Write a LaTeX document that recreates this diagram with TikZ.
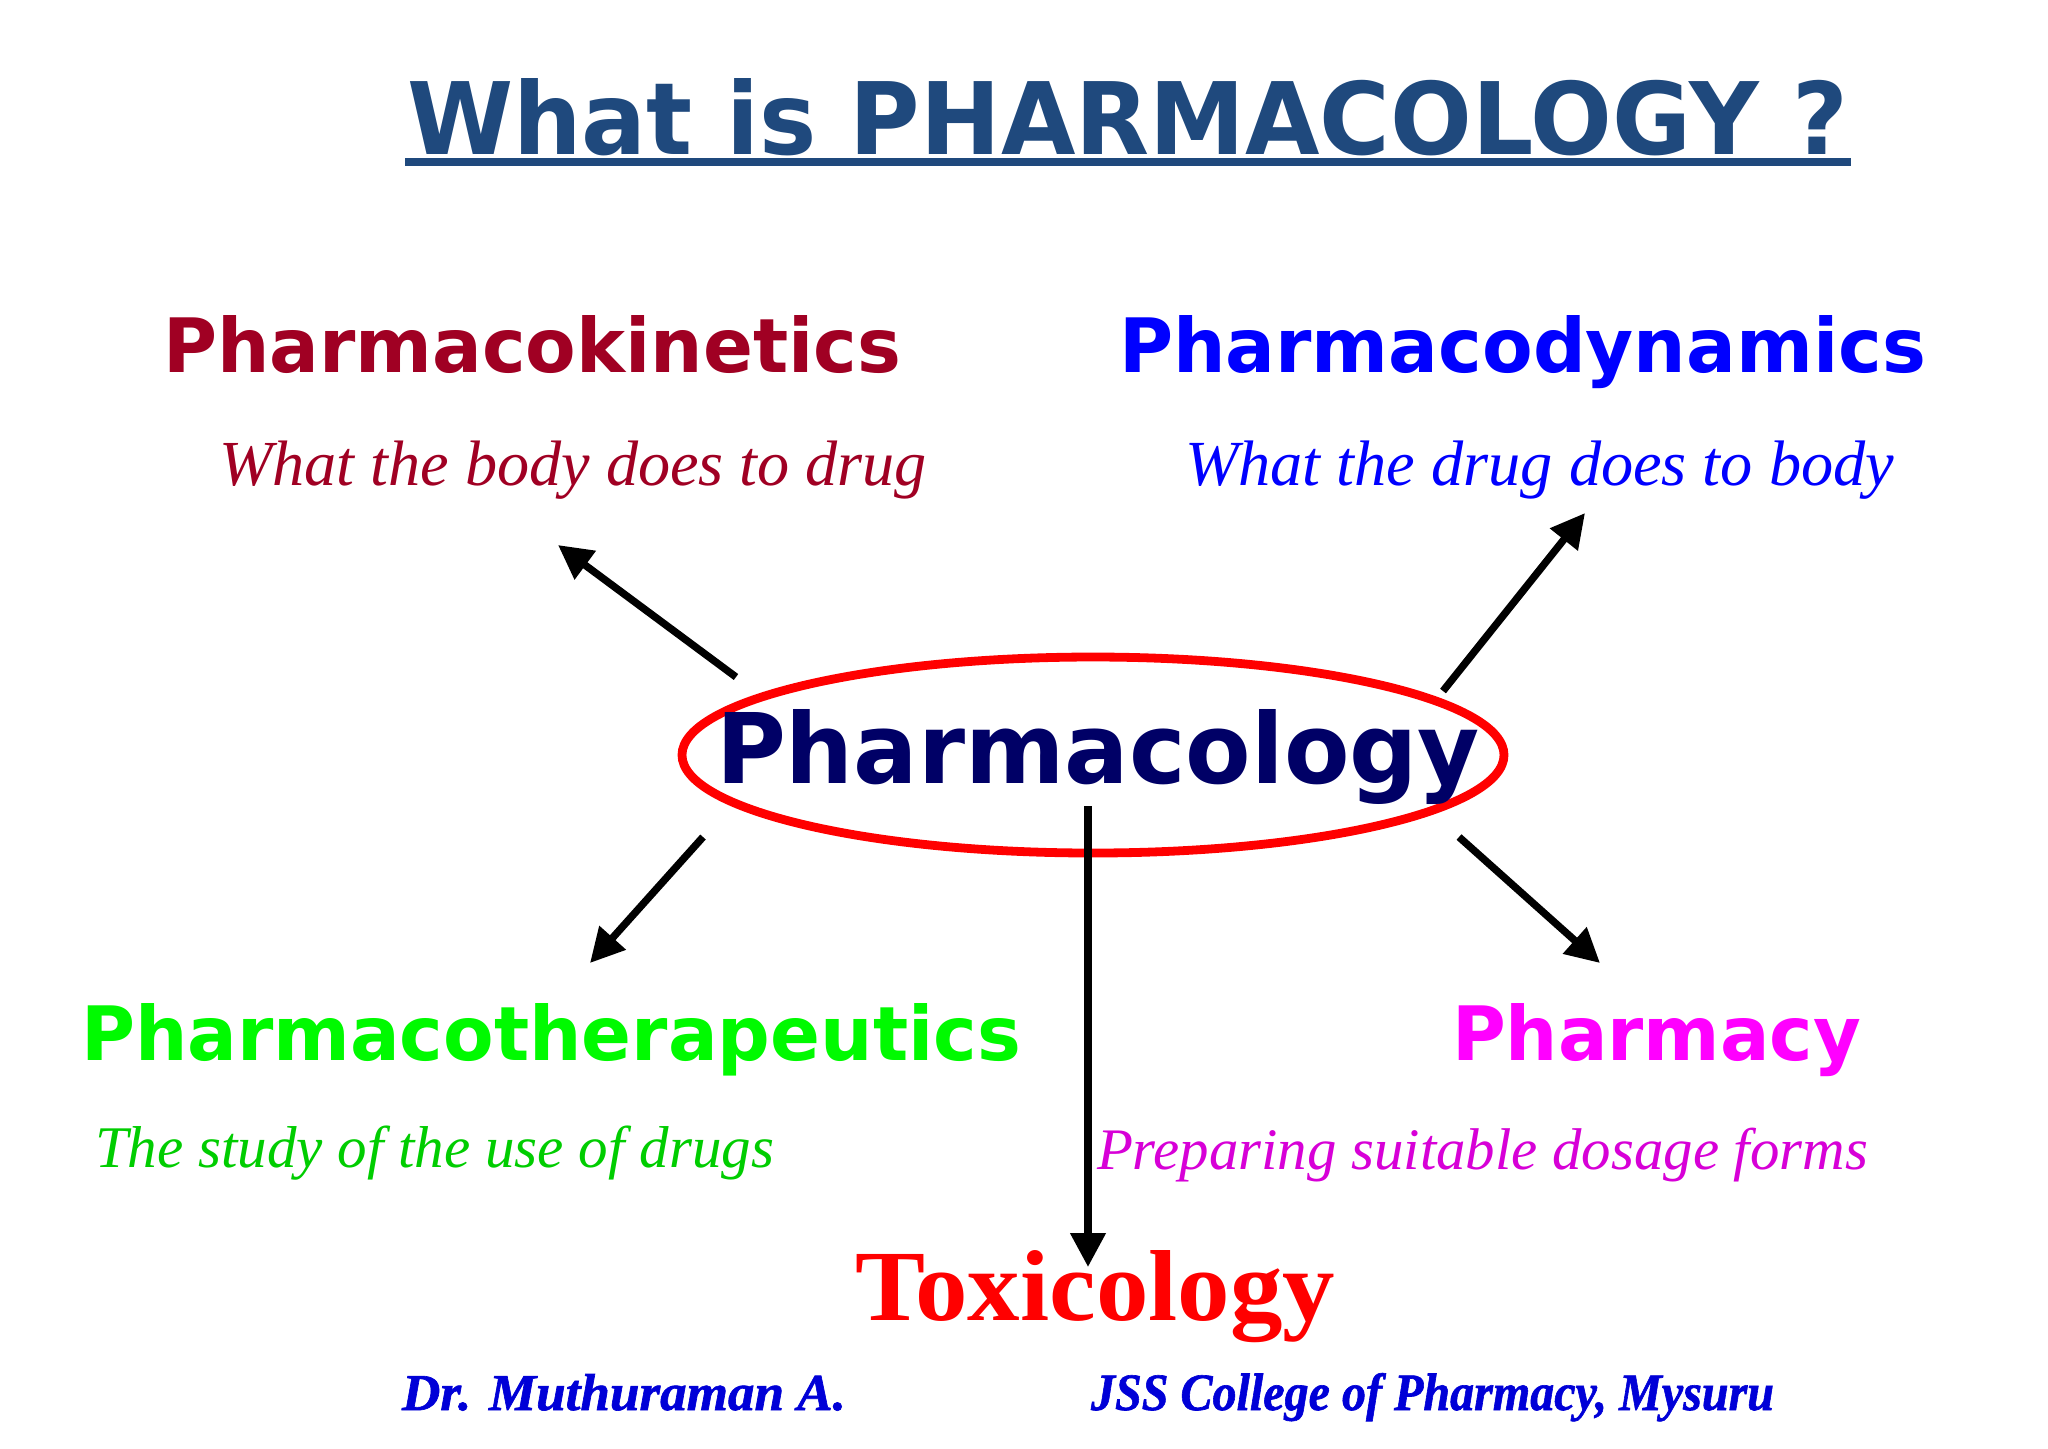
\documentclass[tikz,border=0pt]{standalone}
\usepackage{fontspec}
\usepackage{graphicx}
\setmainfont{Liberation Serif}
\newfontfamily\dejavu{DejaVu Sans}
\newfontfamily\footfont{Liberation Serif}[FakeBold=1.2]
\usetikzlibrary{arrows.meta,shapes.geometric}
\definecolor{titleblue}{RGB}{31,73,125}
\definecolor{kinred}{RGB}{160,0,35}
\definecolor{dynblue}{RGB}{0,0,255}
\definecolor{navyc}{RGB}{0,0,102}
\definecolor{thergreen}{RGB}{0,250,0}
\definecolor{thergreentwo}{RGB}{0,205,0}
\definecolor{pmag}{RGB}{255,0,255}
\definecolor{pmagtwo}{RGB}{215,0,215}
\definecolor{footblue}{RGB}{0,0,215}
\definecolor{toxred}{RGB}{255,0,0}
\newcommand\fitw[2]{\resizebox{#1}{!}{#2}}
\newcommand\fitwh[3]{\resizebox{#1}{#2}{#3}}
\begin{document}
\begin{tikzpicture}[x=0.5pt,y=-0.5pt,
  txt/.style={inner sep=0pt,outer sep=0pt,anchor=base west},
  heavy/.style={font=\dejavu\bfseries\fontsize{37.7}{44}\selectfont},
  itl/.style={font=\itshape\fontsize{29}{34}\selectfont},
  foot/.style={font=\footfont\bfseries\itshape\fontsize{28}{34}\selectfont,text=footblue},
  arr/.style={line width=3.7pt,-{Triangle[length=17pt,width=17pt]}}]
\fill[white] (0,0) rectangle (2048,1448);
\useasboundingbox (0,0) rectangle (2048,1448);

% title
\node[txt,text=titleblue] (title) at (407,154)
  {\fitwh{720.5pt}{38pt}{\dejavu\bfseries\fontsize{50}{60}\selectfont What is PHARMACOLOGY ?}};
\draw[titleblue,line width=4pt] (405,162) -- (1851,162);

% headings
\node[txt,heavy,text=kinred] (kin) at (163,372) {\fitwh{369pt}{28.5pt}{Pharmacokinetics}};
\node[txt,heavy,text=dynblue] (dyn) at (1119,372) {\fitwh{403.5pt}{28.5pt}{Pharmacodynamics}};
\node[txt,itl,text=kinred] (kindef) at (219,485) {\fitw{354pt}{What the body does to drug}};
\node[txt,itl,text=dynblue] (dyndef) at (1185,485) {\fitw{354.5pt}{What the drug does to body}};

% centre
\node[draw=red,line width=4.4pt,ellipse,minimum width=822pt/2,minimum height=196pt/2,inner sep=0pt] (ell) at (1093,755) {};
\node[txt,text=navyc] (pharm) at (716,783)
  {\fitwh{382pt}{37pt}{\dejavu\bfseries\fontsize{49}{56}\selectfont Pharmacology}};

% lower headings
\node[txt,heavy,text=thergreen] (ther) at (81,1060) {\fitwh{470pt}{28.5pt}{Pharmacotherapeutics}};
\node[txt,itl,text=thergreentwo] (therdef) at (95,1167) {\fitw{339.5pt}{The study of the use of drugs}};
\node[txt,heavy,text=pmag] (pmcy) at (1452,1060) {\fitwh{204.5pt}{28.5pt}{Pharmacy}};
\node[txt,itl,text=pmagtwo] (pmcydef) at (1097,1169) {\fitw{385.5pt}{Preparing suitable dosage forms}};
\node[txt,text=toxred] (tox) at (855,1320) {\fitwh{240pt}{35pt}{\bfseries\fontsize{53}{60}\selectfont Toxicology}};

% footer
\node[txt,foot] (auth) at (402,1410) {\fitwh{222pt}{18pt}{Dr. Muthuraman A.}};
\node[txt,foot] (coll) at (1091,1410) {\fitwh{341.5pt}{18.5pt}{JSS College of Pharmacy, Mysuru}};

% arrows
\coordinate (a1s) at (736,677);  \coordinate (a1e) at (558,545);
\coordinate (a2s) at (1443,691); \coordinate (a2e) at (1585,513);
\coordinate (a3s) at (703,837);  \coordinate (a3e) at (590,963);
\coordinate (a4s) at (1459,837); \coordinate (a4e) at (1600,963);
\coordinate (a5s) at (1088,806); \coordinate (a5e) at (1088,1267);
\draw[arr] (a1s) -- (a1e);
\draw[arr] (a2s) -- (a2e);
\draw[arr] (a3s) -- (a3e);
\draw[arr] (a4s) -- (a4e);
\draw[arr] (a5s) -- (a5e);
\end{tikzpicture}
\end{document}
